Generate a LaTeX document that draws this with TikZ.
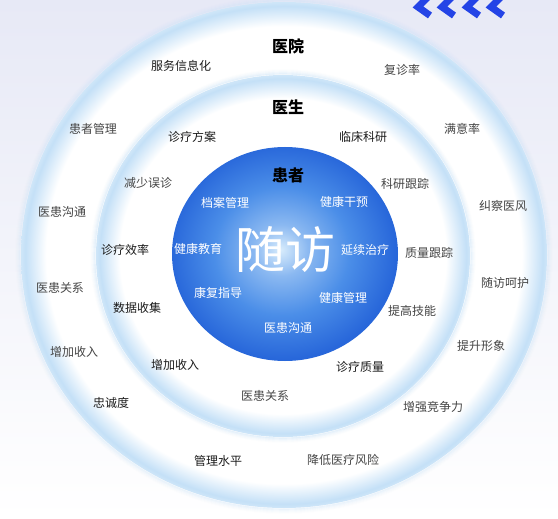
\documentclass[tikz,border=0pt]{standalone}
\usepackage{fontspec}
\setmainfont{Noto Sans CJK SC}
\usetikzlibrary{positioning}

\definecolor{bglav}{HTML}{E7E9F6}
\definecolor{ringblue}{HTML}{C4E0F7}
\definecolor{ringedge}{HTML}{CFE6F8}
\definecolor{chevblue}{HTML}{2444E6}
\definecolor{ballcore}{HTML}{D8ECFC}
\definecolor{ballmid}{HTML}{4B8EE8}
\definecolor{balledge}{HTML}{2867DA}
\definecolor{labgrey}{HTML}{454545}
\definecolor{labdark}{HTML}{1C1C1C}

\pgfdeclareradialshading{outerring}{\pgfpoint{0bp}{0bp}}{color(0bp)=(white); color(22.6bp)=(white); color(24.6bp)=(ringblue); color(25bp)=(ringedge); color(50bp)=(ringedge)}
\pgfdeclareradialshading{midring}{\pgfpoint{0bp}{0bp}}{color(0bp)=(white); color(21.8bp)=(white); color(24.5bp)=(ringblue); color(25bp)=(ringedge); color(50bp)=(ringedge)}
\pgfdeclareradialshading{ball}{\pgfpoint{-1bp}{1bp}}{color(0bp)=(ballcore); color(6bp)=(ballcore!45!ballmid); color(15bp)=(ballmid); color(25bp)=(balledge); color(50bp)=(balledge)}

\tikzset{
  lab/.style={font=\fontsize{12}{14}\selectfont, text=labgrey, inner sep=0pt},
  labd/.style={lab, text=labdark},
  inlab/.style={lab, text=white},
  head/.style={font=\fontsize{16}{18}\selectfont\bfseries, text=black, inner sep=0pt}
}

\begin{document}
\begin{tikzpicture}[x=1pt,y=-1pt]
\useasboundingbox (0,0) rectangle (558,519);
\shade[top color=bglav, bottom color=white] (0,0) rectangle (558,519);

% chevrons
\foreach \cx in {418,442,467,491}
  \draw[chevblue, line width=7pt, line join=miter] (\cx+12,-5) -- (\cx,7) -- (\cx+12,15.5);

% rings
\foreach \g/\o in {1/0.3,2/0.22,3/0.14,4/0.08,5/0.04}
  \draw[ringblue, line width=1.1pt, opacity=\o] (284,255) ellipse[x radius=263pt+\g pt, y radius=253pt+\g pt];
\shade[shading=outerring] (284,255) ellipse[x radius=263pt, y radius=253pt];
\foreach \g/\o in {1/0.4,2/0.28,3/0.18,4/0.1,5/0.05}
  \draw[ringblue, line width=1.1pt, opacity=\o] (283,256) ellipse[x radius=187pt+\g pt, y radius=181pt+\g pt];
\shade[shading=midring] (283,256) ellipse[x radius=187pt, y radius=181pt];
\shade[shading=ball] (285,254) ellipse[x radius=113pt, y radius=107pt];

% outer ring: hospital
\node[head] (hosp) at (288,46) {医院};
\node[labd] (fwxxh) at (181,66) {服务信息化};
\node[lab] (fzl) at (402,70) {复诊率};
\node[lab] (hzgl) at (93,129) {患者管理};
\node[lab] (myl) at (462,129) {满意率};
\node[lab] (yhgt1) at (62,212) {医患沟通};
\node[lab] (jcyf) at (503,206) {纠察医风};
\node[lab] (yhgx1) at (60,288) {医患关系};
\node[lab] (sfhh) at (505,283) {随访呵护};
\node[lab] (zjsr1) at (74,352) {增加收入};
\node[lab] (tsxx) at (481,346) {提升形象};
\node[labd] (zcd) at (111,403) {忠诚度};
\node[lab] (zqjzl) at (433,407) {增强竞争力};
\node[labd] (glsp) at (218,461) {管理水平};
\node[lab] (jdylfx) at (343,460) {降低医疗风险};

% middle ring: doctor
\node[head] (doc) at (288,107) {医生};
\node[labd] (zlfa) at (192,137) {诊疗方案};
\node[labd] (lcky) at (363,137) {临床科研};
\node[lab] (jswz) at (148,183) {减少误诊};
\node[lab] (kygz) at (405,184) {科研跟踪};
\node[labd] (zlxl) at (125,250) {诊疗效率};
\node[lab] (zlgz) at (429,253) {质量跟踪};
\node[labd] (sjsj) at (137,308) {数据收集};
\node[lab] (tgjn) at (412,311) {提高技能};
\node[labd] (zjsr2) at (175,365) {增加收入};
\node[labd] (zlzl) at (360,367) {诊疗质量};
\node[lab] (yhgx2) at (265,396) {医患关系};

% inner disc: patient
\node[head] (pat) at (288,175) {患者};
\node[font=\fontsize{50}{55}\selectfont, text=white, inner sep=0pt] (sf) at (285,250) {随访};
\node[inlab] (dagl) at (225,203) {档案管理};
\node[inlab] (jkgy) at (344,202) {健康干预};
\node[inlab] (jkjy) at (198,249) {健康教育};
\node[inlab] (yxzl) at (365,250) {延续治疗};
\node[inlab] (kfzd) at (218,293) {康复指导};
\node[inlab] (jkgl) at (343,298) {健康管理};
\node[inlab] (yhgt2) at (288,328) {医患沟通};
\end{tikzpicture}
\end{document}
